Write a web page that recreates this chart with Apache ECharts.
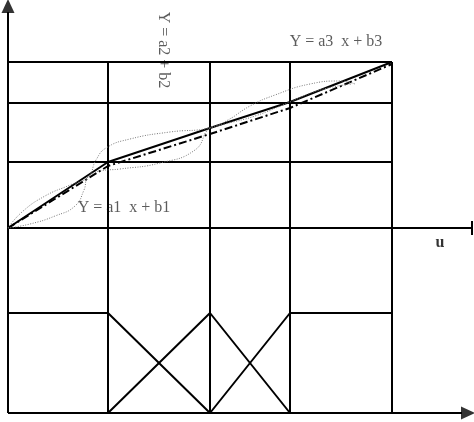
<!DOCTYPE html>
<html><head><meta charset="utf-8">
<script src="https://cdn.jsdelivr.net/npm/echarts@6/dist/echarts.min.js"></script>
<style>html,body{margin:0;padding:0;background:#fff}#c{width:474px;height:422px}</style>
</head><body><div id="c"></div>
<script>
// Axis units chosen to match the diagram's layout (x right, y downward)
const gridX = [8, 108, 210, 290, 392];
const gridYTop = [62, 103, 162];
const uAxisY = 228;
const lowerY = [313, 413];
const solidLine = [[8,228],[108,162],[210,128],[290,102],[392,62]];
const dashDotLine = [[8,228],[108,166],[210,134],[290,108],[392,64]];
const dotted1 = [[8,228],[22,212],[45,196],[70,185],[88,177],[96,160],[106,148],[130,139],[170,132],[210,128],[228,120],[250,106],[275,95],[310,84],[340,81],[355,84]];
const dotted2 = [[8,228],[30,224],[55,216],[75,206],[84,190],[88,177],[100,171],[120,169],[160,163],[195,150],[210,128],[225,124],[255,116],[290,102],[320,90],[352,84]];
const labels = [
  {text:'Y = a3  x + b3', x:336, y:42, rot:0, bold:false},
  {text:'Y = a1  x + b1', x:124, y:208, rot:0, bold:false},
  {text:'Y = a2 + b2', x:163, y:50, rot:-90, bold:false},
  {text:'u', x:440, y:243, rot:0, bold:true}
];

const series = [];
function seg(data, style){ series.push({type:'line', data, symbol:'none', silent:true, animation:false, lineStyle:Object.assign({color:'#000', width:2}, style)}); }
// vertical grid lines
gridX.slice(1).forEach(x => seg([[x,62],[x,413]]));
// top horizontal lines
gridYTop.forEach(y => seg([[8,y],[392,y]]));
// u axis
seg([[8,uAxisY],[472,uAxisY]]);
seg([[472,uAxisY-7],[472,uAxisY+7]]);
// vertical axis & bottom axis
seg([[8,413],[8,12]]);
seg([[8,413],[462,413]]);
// lower membership shapes
seg([[8,lowerY[0]],[108,lowerY[0]],[210,lowerY[1]]]);
seg([[108,lowerY[1]],[210,lowerY[0]],[290,lowerY[1]]]);
seg([[210,lowerY[1]],[290,lowerY[0]],[392,lowerY[0]]]);
// functions
seg(solidLine, {width:2});
seg(dashDotLine, {width:2, type:[8,3,2,3]});
series.push({type:'line', data:dotted1, smooth:0.5, symbol:'none', silent:true, animation:false, lineStyle:{color:'#777', width:1, type:[1,1.5]}});
series.push({type:'line', data:dotted2, smooth:0.5, symbol:'none', silent:true, animation:false, lineStyle:{color:'#777', width:1, type:[1,1.5]}});
// arrowheads
series.push({type:'scatter', silent:true, animation:false, data:[{value:[8,6], symbolRotate:0},{value:[468,413], symbolRotate:-90}], symbol:'triangle', symbolSize:[13,14], itemStyle:{color:'#000'}});
// text labels
series.push({type:'scatter', silent:true, animation:false, symbolSize:0,
  data: labels.map(l => ({value:[l.x,l.y], label:{show:true, formatter:l.text, position:'inside', rotate:l.rot,
    fontFamily:'Liberation Serif', fontSize:l.bold?16:16, fontWeight:l.bold?'bold':'normal', color:l.bold?'#000':'#333'}}))});

const chart = echarts.init(document.getElementById('c'));
chart.setOption({
  animation:false,
  grid:{left:0, right:0, top:0, bottom:0},
  xAxis:{type:'value', min:0, max:474, show:false},
  yAxis:{type:'value', min:0, max:422, inverse:true, show:false},
  series
});
</script></body></html>
